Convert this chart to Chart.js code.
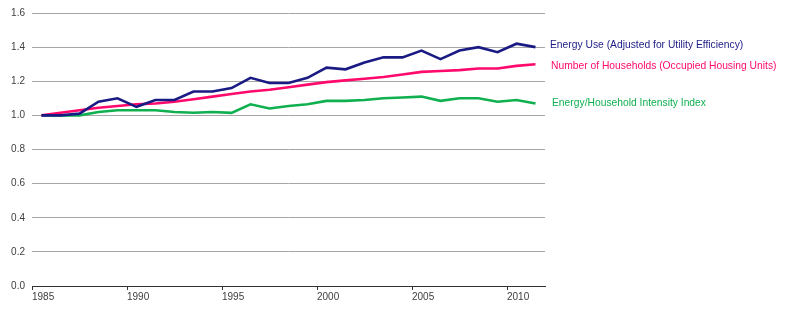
<!DOCTYPE html>
<html>
<head>
<meta charset="utf-8">
<script src="https://cdn.jsdelivr.net/npm/chart.js@4/dist/chart.umd.min.js"></script>
<style>
  html, body { margin: 0; padding: 0; background: #fff; }
  #c { display: block; }
</style>
</head>
<body>
<canvas id="c" width="788" height="319"></canvas>
<script>
// index values, 1985 = 1.0
var years = [1985, 1986, 1987, 1988, 1989, 1990, 1991, 1992, 1993, 1994, 1995, 1996, 1997, 1998,
             1999, 2000, 2001, 2002, 2003, 2004, 2005, 2006, 2007, 2008, 2009, 2010, 2011];
var energy_use = [1.00, 1.00, 1.01, 1.08, 1.10, 1.05, 1.09, 1.09, 1.14, 1.14, 1.16, 1.22, 1.19, 1.19,
                  1.22, 1.28, 1.27, 1.31, 1.34, 1.34, 1.38, 1.33, 1.38, 1.40, 1.37, 1.42, 1.40];
var households = [1.00, 1.015, 1.03, 1.045, 1.055, 1.065, 1.07, 1.08, 1.095, 1.11, 1.125, 1.14, 1.15, 1.165,
                  1.18, 1.195, 1.205, 1.215, 1.225, 1.24, 1.255, 1.26, 1.265, 1.275, 1.275, 1.29, 1.30];
var intensity = [1.00, 1.00, 1.00, 1.02, 1.03, 1.03, 1.03, 1.02, 1.015, 1.02, 1.015, 1.065, 1.04, 1.055,
                 1.065, 1.085, 1.085, 1.09, 1.10, 1.105, 1.11, 1.085, 1.10, 1.10, 1.08, 1.09, 1.07];
var series_names = ['Energy Use (Adjusted for Utility Efficiency)',
                    'Number of Households (Occupied Housing Units)',
                    'Energy/Household Intensity Index'];
var y_ticks = [0, 0.2, 0.4, 0.6, 0.8, 1.0, 1.2, 1.4, 1.6];
var x_ticks = [1985, 1990, 1995, 2000, 2005, 2010];

var colors = ['#1a1a84', '#ff0a6c', '#10b050'];
var label_offsets = [[5, -2], [6, 2], [7, 0]];

function points(vals) {
    // yearly values sit in the middle of each year
    return vals.map(function (v, i) { return {x: years[i] + 0.5, y: v}; });
}

var endLabels = {
    id: 'endLabels',
    afterDatasetsDraw: function (chart) {
        var ctx = chart.ctx;
        var ys = chart.scales.y;
        ctx.save();
        ctx.font = '10.3px "Liberation Sans", Arial, sans-serif';
        ctx.textAlign = 'left';
        ctx.textBaseline = 'middle';
        chart.data.datasets.forEach(function (ds, i) {
            var last = ds.data[ds.data.length - 1].y;
            ctx.fillStyle = colors[i];
            ctx.fillText(ds.label, chart.chartArea.right + label_offsets[i][0],
                         ys.getPixelForValue(last) + label_offsets[i][1]);
        });
        ctx.restore();
    }
};

var ds = [energy_use, households, intensity].map(function (vals, i) {
    return {
        label: series_names[i],
        data: points(vals),
        borderColor: colors[i],
        backgroundColor: colors[i],
        borderWidth: 2.6,
        pointRadius: 0,
        tension: 0,
        fill: false
    };
});

var myChart = new Chart(document.getElementById('c'), {
    type: 'line',
    data: { datasets: ds },
    plugins: [endLabels],
    options: {
        responsive: false,
        animation: false,
        layout: { padding: { left: 0, right: 243, top: 13, bottom: 0 } },
        plugins: {
            legend: { display: false },
            tooltip: { enabled: false }
        },
        scales: {
            x: {
                type: 'linear',
                min: 1985,
                max: 2012,
                afterFit: function (s) { s.height = 33; },
                afterBuildTicks: function (s) { s.ticks = x_ticks.map(function (v) { return {value: v}; }); },
                border: { display: true, color: '#333', width: 1 },
                grid: { drawOnChartArea: false, drawTicks: true, tickLength: 4, color: '#333' },
                ticks: {
                    align: 'start',
                    maxRotation: 0,
                    padding: 1,
                    color: '#404040',
                    font: { family: '"Liberation Sans", Arial, sans-serif', size: 10 },
                    callback: function (v) { return String(v); }
                }
            },
            y: {
                min: 0,
                max: 1.6,
                afterFit: function (s) { s.width = 32; },
                afterBuildTicks: function (s) { s.ticks = y_ticks.map(function (v) { return {value: v}; }); },
                border: { display: false },
                grid: { color: '#a6a6a6', lineWidth: 1, drawTicks: false },
                ticks: {
                    padding: 7,
                    color: '#404040',
                    font: { family: '"Liberation Sans", Arial, sans-serif', size: 10 },
                    callback: function (v) { return v.toFixed(1); }
                }
            }
        }
    }
});
</script>
</body>
</html>
